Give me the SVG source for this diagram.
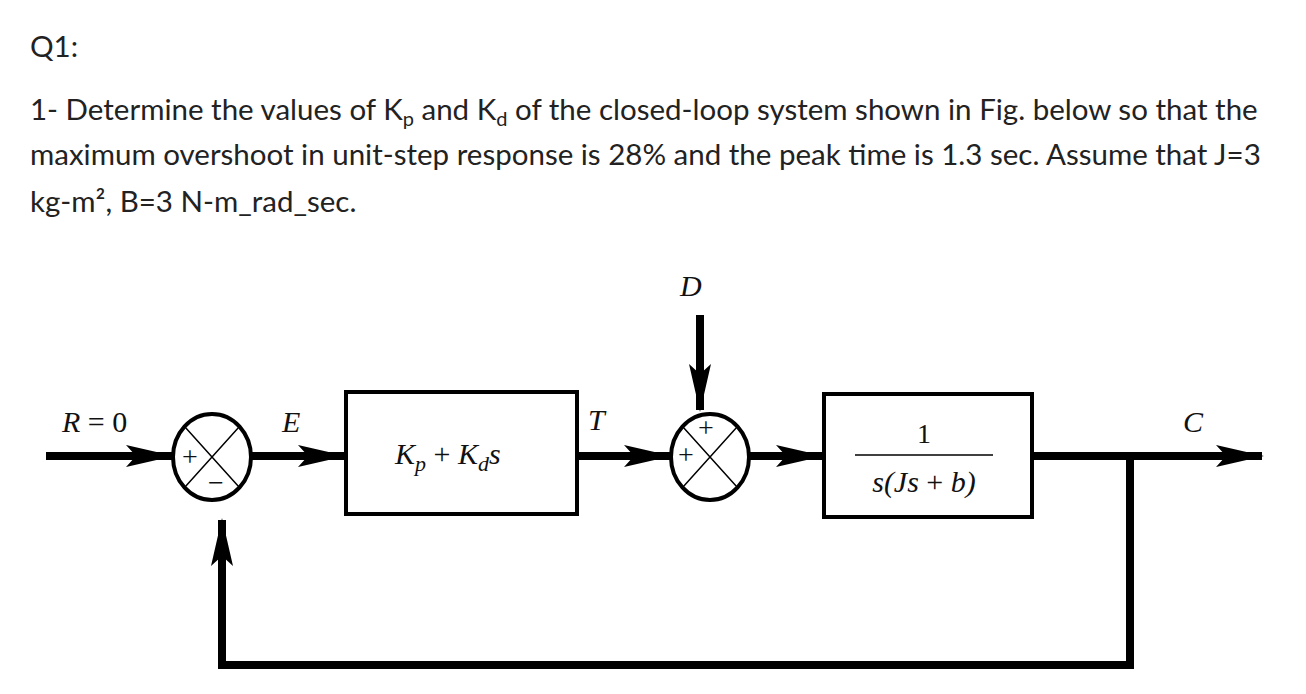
<svg xmlns="http://www.w3.org/2000/svg" width="1306" height="694" viewBox="0 0 1306 694">
<style>
.t{font-family:Lato,"Open Sans",sans-serif;font-size:29.5px;fill:#222}
.m{font-family:"Liberation Serif",serif;font-style:italic;font-size:30px;fill:#111}
.n{font-family:"Liberation Serif",serif;font-size:28px;fill:#111}
.w{stroke:#000;stroke-width:8;fill:none}
.b{stroke:#000;stroke-width:4;fill:#fff}
.x{stroke:#000;stroke-width:1.5}
</style>
<defs>
<marker id="A" markerWidth="48" markerHeight="22" refX="46" refY="11" orient="auto" markerUnits="userSpaceOnUse" viewBox="0 0 48 22"><path d="M0,0 L48,11 L0,22 L10,11z"/></marker></defs>
<text class="t" x="30" y="57">Q1:</text>
<text class="t" x="30" y="120">1- Determine the values of K<tspan font-size="20" dy="6">p</tspan><tspan dy="-6"> and K</tspan><tspan font-size="20" dy="6">d</tspan><tspan dy="-6"> of the closed-loop system shown in Fig. below so that the</tspan></text>
<text class="t" x="30" y="165">maximum overshoot in unit-step response is 28% and the peak time is 1.3 sec. Assume that J=3</text>
<text class="t" x="30" y="212">kg-m², B=3 N-m_rad_sec.</text>
<g id="connectors">
<path class="w" d="M46,456 H172" marker-end="url(#A)"/>
<path class="w" d="M252,456 H344" marker-end="url(#A)"/>
<path class="w" d="M578,456 H670" marker-end="url(#A)"/>
<path class="w" d="M749,456 H822" marker-end="url(#A)"/>
<path class="w" d="M1032,456 H1262" marker-end="url(#A)"/>
<path class="w" d="M700,315 V410" marker-end="url(#A)"/>
<path class="w" d="M1130,456 V665 H222 V520" marker-end="url(#A)"/>
</g>
<g id="sum1"><ellipse class="b" cx="212" cy="457" rx="39" ry="43"/>
<path class="x" d="M185,427 L239,487 M239,427 L185,487"/>
<text class="n" x="190" y="466" text-anchor="middle" font-size="24">+</text>
<text class="n" x="216" y="492" text-anchor="middle" font-size="24">−</text></g>
<g id="ctrl"><rect class="b" x="346" y="392" width="231" height="122"/>
<text class="m" x="395" y="464">K<tspan font-size="22" dy="7">p</tspan><tspan dy="-7" font-style="normal"> + </tspan>K<tspan font-size="22" dy="7">d</tspan><tspan dy="-7">s</tspan></text></g>
<g id="sum2"><ellipse class="b" cx="710" cy="457" rx="39" ry="43"/>
<path class="x" d="M683,427 L737,487 M737,427 L683,487"/>
<text class="n" x="706" y="437" text-anchor="middle" font-size="24">+</text>
<text class="n" x="686" y="464" text-anchor="middle" font-size="24">+</text></g>
<g id="plant"><rect class="b" x="824" y="394" width="208" height="123"/>
<line x1="855" y1="455" x2="993" y2="455" stroke="#000" stroke-width="1.5"/>
<text class="n" x="924" y="443" text-anchor="middle">1</text>
<text class="m" x="924" y="492" text-anchor="middle">s(Js <tspan font-style="normal">+</tspan> b)</text></g>
<g id="labels">
<text class="m" x="62" y="432">R <tspan font-style="normal">= 0</tspan></text>
<text class="m" x="282" y="432">E</text>
<text class="m" x="588" y="430">T</text>
<text class="m" x="680" y="296">D</text>
<text class="m" x="1183" y="432">C</text>
</g>
</svg>
